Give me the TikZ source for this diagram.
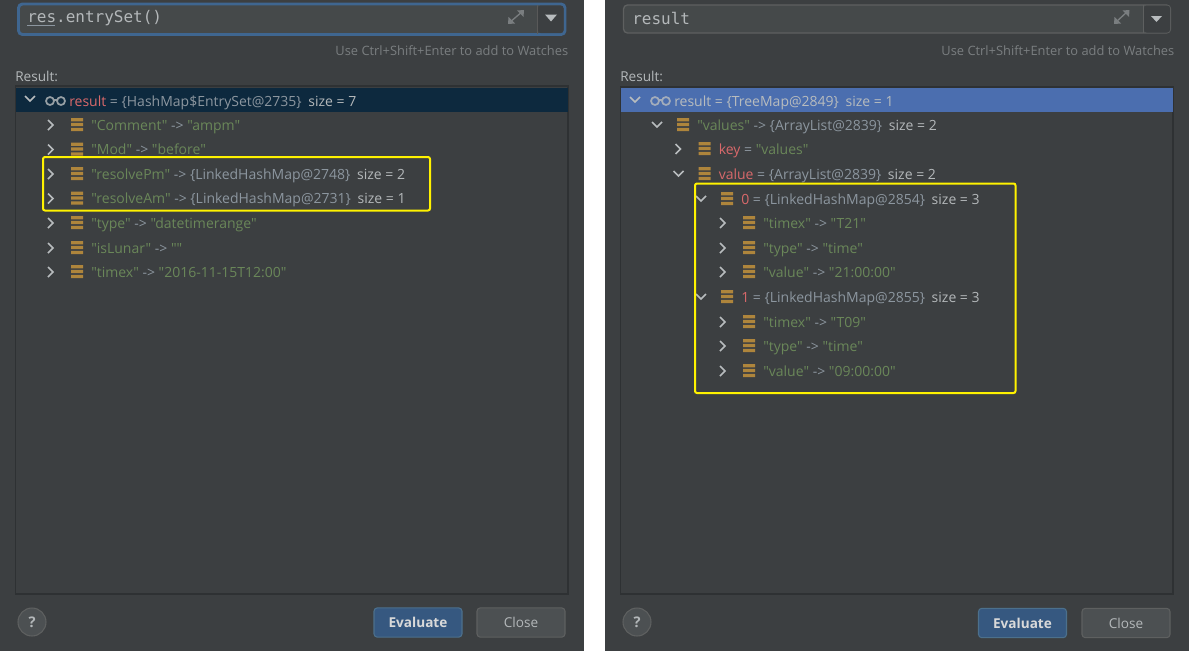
\documentclass[tikz,border=0pt]{standalone}
\usepackage{fontspec}
\setmainfont{Open Sans}[Ligatures=TeXOff]
\newfontfamily\codefont{DejaVu Sans Mono}
\definecolor{panelbg}{HTML}{3C3F41}
\definecolor{fieldbg}{HTML}{45494A}
\definecolor{treeedge}{HTML}{2E3133}
\definecolor{selnavy}{HTML}{0D293E}
\definecolor{selblue}{HTML}{4B6EAF}
\definecolor{txtgreen}{HTML}{6A8759}
\definecolor{txtgrey}{HTML}{8C969F}
\definecolor{txtsize}{HTML}{B4B8BA}
\definecolor{txtred}{HTML}{D9696B}
\definecolor{iconbrown}{HTML}{AE853C}
\definecolor{focusblue}{HTML}{3F6690}
\definecolor{btnblue}{HTML}{365880}
\definecolor{btnedge}{HTML}{4C708C}
\definecolor{btngrey}{HTML}{4C5052}
\definecolor{btngreyedge}{HTML}{5E6060}
\definecolor{hint}{HTML}{7A7E80}
\definecolor{chev}{HTML}{B8BCBE}
\newcommand{\Sz}[1]{\textcolor{txtsize}{\hspace{5pt}size = #1}}
\newcommand{\Gn}[1]{\textcolor{txtgreen}{#1}}
\newcommand{\Gy}[1]{\textcolor{txtgrey}{#1}}
\newcommand{\Rd}[1]{\textcolor{txtred}{#1}}
\newcommand{\Arr}{\textcolor{txtgrey}{\ -> }}
\newcommand{\Eq}{\textcolor{txtgrey}{\ = }}
% name, chevron x, y, open(1)/closed(0), text
\newcommand{\treerow}[5]{%
  \ifnum#4=1
    \draw[chevline] (#2-5,#3-3) -- (#2,#3+2) -- (#2+5,#3-3);
  \else
    \draw[chevline] (#2-3,#3-5) -- (#2+2,#3) -- (#2-3,#3+5);
  \fi
  \fill[iconbrown] (#2+20,#3-7) rectangle (#2+32,#3-3.7)
                   (#2+20,#3-2.2) rectangle (#2+32,#3+1.2)
                   (#2+20,#3+2.8) rectangle (#2+32,#3+6);
  \node[rowtext] (#1) at (#2+40,#3+1) {#5};%
}
\newcommand{\glasses}[2]{%
  \draw[line width=1.3pt,#2] (#1-6,101) circle (4) (#1+5,101) circle (4);
  \draw[line width=1pt,#2] (#1-2,100) -- (#1+1,100);
}
\tikzset{
  chevline/.style={chev,line width=1.1pt},
  rowtext/.style={anchor=west,inner sep=0pt,font=\fontsize{10.5}{12}\selectfont,text height=8pt,text depth=2pt},
  hinttext/.style={anchor=east,inner sep=0pt,text=hint,font=\fontsize{9.65}{11}\selectfont},
  labeltext/.style={anchor=west,inner sep=0pt,text=txtsize,font=\fontsize{10.2}{12}\selectfont},
  codetext/.style={anchor=west,inner sep=0pt,text=txtsize,font=\codefont\fontsize{12}{14}\selectfont},
  evalbtn/.style={draw=btnedge,fill=btnblue,rounded corners=2.5pt,line width=.8pt,minimum width=66pt,minimum height=22pt,inner sep=0pt,text=white!85!black,font=\bfseries\fontsize{10.2}{12}\selectfont},
  closebtn/.style={draw=btngreyedge,fill=btngrey,rounded corners=2.5pt,line width=.8pt,minimum width=66pt,minimum height=22pt,inner sep=0pt,text=txtsize,font=\fontsize{10.2}{12}\selectfont},
  helpbtn/.style={circle,draw=btngreyedge,fill=btngrey,line width=.8pt,minimum size=21pt,inner sep=0pt,text=txtsize,font=\bfseries\fontsize{11}{13}\selectfont},
  yellowbox/.style={draw=yellow,line width=1.5pt,rounded corners=1.5pt},
}
\begin{document}
\begin{tikzpicture}[x=0.75pt,y=-0.75pt]
\useasboundingbox (0,0) rectangle (1189,651);
\fill[white] (0,0) rectangle (1189,651);
\fill[panelbg] (0,0) rectangle (584,651);
\fill[panelbg] (605,0) rectangle (1189,651);
% left field
\draw[focusblue,line width=2.2pt,fill=fieldbg,rounded corners=3pt] (18.5,4) rectangle (565,34.5);
\fill[panelbg,rounded corners=2pt] (538,5.5) rectangle (563.5,33);
\draw[gray!70!black,line width=.7pt] (537.5,5) -- (537.5,33.5);
\node[codetext] (lq) at (27,18.5) {res.entrySet()};
\draw[txtgrey,line width=.6pt] (27,25) -- (55,25);
\draw[hint,line width=1pt] (509,23) -- (523,11);
\fill[hint] (524,10) -- (517,10.5) -- (523.5,17) -- cycle (508,24) -- (515,23.5) -- (508.5,17) -- cycle;
\fill[chev] (545,14.5) -- (557,14.5) -- (551,21.5) -- cycle;
\node[hinttext] (lh) at (568.5,50.5) {Use Ctrl+Shift+Enter to add to Watches};
\node[labeltext] (lr) at (15,76) {Result:};
% left tree
\draw[treeedge,line width=.8pt] (15.5,86) rectangle (568,594);
\fill[selnavy] (16,88) rectangle (567.5,112);
\draw[chev,line width=1.3pt] (25,96) -- (30,101) -- (35,96);
\glasses{56}{chev!80!selnavy}
\node[rowtext] (lroot) at (69,102) {\Rd{result}\Eq\Gy{\{HashMap\$EntrySet@2735\}}\Sz{7}};
\treerow{la}{51}{125}{0}{\Gn{"Comment"}\Arr\Gn{"ampm"}}
\treerow{lb}{51}{149.5}{0}{\Gn{"Mod"}\Arr\Gn{"before"}}
\treerow{lc}{51}{174}{0}{\Gn{"resolvePm"}\Arr\Gy{\{LinkedHashMap@2748\}}\Sz{2}}
\treerow{ld}{51}{198.5}{0}{\Gn{"resolveAm"}\Arr\Gy{\{LinkedHashMap@2731\}}\Sz{1}}
\treerow{le}{51}{223}{0}{\Gn{"type"}\Arr\Gn{"datetimerange"}}
\treerow{lf}{51}{248}{0}{\Gn{"isLunar"}\Arr\Gn{""}}
\treerow{lg}{51}{272}{0}{\Gn{"timex"}\Arr\Gn{"2016-11-15T12:00"}}
\draw[yellowbox] (43,157) rectangle (430,210.5);
\node[helpbtn] (lhelp) at (32,622) {?};
\node[evalbtn] (lev) at (418,622.5) {Evaluate};
\node[closebtn] (lcl) at (521,622.5) {Close};
% right field
\draw[btngreyedge,line width=1pt,fill=fieldbg,rounded corners=3pt] (623.5,5) rectangle (1170.5,33);
\fill[panelbg,rounded corners=2pt] (1144,5.5) rectangle (1170,32.5);
\draw[btngreyedge,line width=.8pt] (1143.5,5) -- (1143.5,33);
\node[codetext] (rq) at (632,18.5) {result};
\draw[hint,line width=1pt] (1115,23) -- (1128,11);
\fill[hint] (1129.5,10) -- (1122.5,10.5) -- (1129,17) -- cycle (1114,24) -- (1121,23.5) -- (1114.5,17) -- cycle;
\fill[chev] (1151,16) -- (1162,16) -- (1156.5,22) -- cycle;
\node[hinttext] (rh) at (1174.5,50.5) {Use Ctrl+Shift+Enter to add to Watches};
\node[labeltext] (rr) at (620,76) {Result:};
% right tree
\draw[treeedge,line width=.8pt] (620.5,87) rectangle (1173,594);
\fill[selblue] (621,88) rectangle (1173,112);
\draw[chev,line width=1.3pt] (630,97) -- (635,102) -- (640,97);
\glasses{661}{chev!80!selblue}
\node[rowtext] (rroot) at (674,102) {\textcolor{chev}{result = \{TreeMap@2849\}\hspace{5pt}size = 1}};
\treerow{ra}{657}{125}{1}{\Gn{"values"}\Arr\Gy{\{ArrayList@2839\}}\Sz{2}}
\treerow{rb}{678.5}{149}{0}{\Rd{key}\Eq\Gn{"values"}}
\treerow{rc}{678.5}{174}{1}{\Rd{value}\Eq\Gy{\{ArrayList@2839\}}\Sz{2}}
\treerow{rd}{701}{199}{1}{\Rd{0}\Eq\Gy{\{LinkedHashMap@2854\}}\Sz{3}}
\treerow{re}{723}{223}{0}{\Gn{"timex"}\Arr\Gn{"T21"}}
\treerow{rf}{723}{248}{0}{\Gn{"type"}\Arr\Gn{"time"}}
\treerow{rg}{723}{272}{0}{\Gn{"value"}\Arr\Gn{"21:00:00"}}
\treerow{rh2}{701}{297}{1}{\Rd{1}\Eq\Gy{\{LinkedHashMap@2855\}}\Sz{3}}
\treerow{ri}{723}{322}{0}{\Gn{"timex"}\Arr\Gn{"T09"}}
\treerow{rj}{723}{346}{0}{\Gn{"type"}\Arr\Gn{"time"}}
\treerow{rk}{723}{371}{0}{\Gn{"value"}\Arr\Gn{"09:00:00"}}
\draw[yellowbox] (695,183.5) rectangle (1015.5,393);
\node[helpbtn] (rhelp) at (637,622) {?};
\node[evalbtn] (rev) at (1022.5,623) {Evaluate};
\node[closebtn] (rcl) at (1126,623) {Close};
\end{tikzpicture}
\end{document}
